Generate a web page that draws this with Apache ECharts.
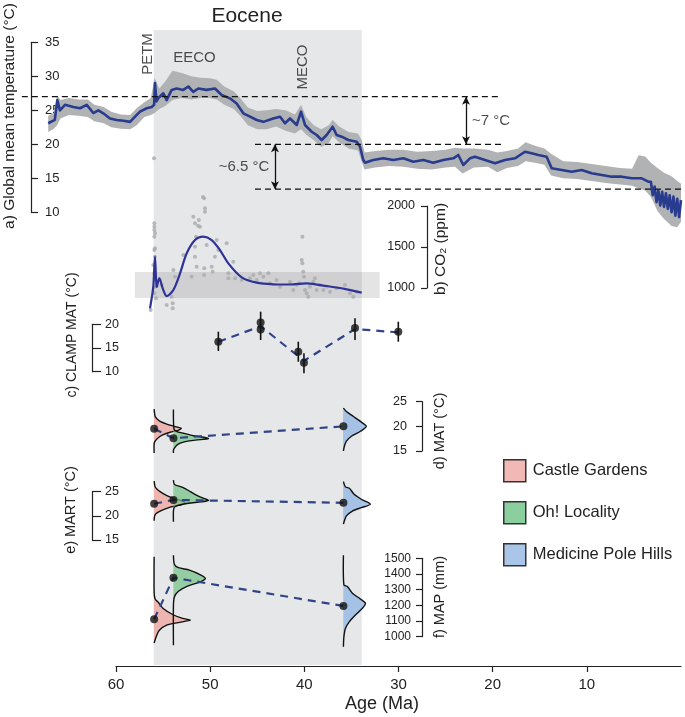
<!DOCTYPE html>
<html><head><meta charset="utf-8">
<script src="https://cdn.jsdelivr.net/npm/echarts@6/dist/echarts.min.js"></script>
<style>html,body{margin:0;padding:0;background:#fff}#c{width:685px;height:717px}</style>
</head><body><div id="c"></div>
<script>
// ---------------- DATA ----------------
// a) Global mean temperature: smoothed curve (age Ma, °C)
const tempAge = [67.2,66.5,66.23,65.95,65.42,64.53,63.82,63.11,62.41,61.88,61.35,60.64,59.93,59.22,58.51,57.98,57.45,56.74,56.21,55.95,55.86,55.7,55.5,54.97,54.62,54.09,53.56,52.85,52.32,51.79,51.26,50.38,49.49,48.78,47.9,47.19,46.48,45.77,45.06,44.36,43.3,42.58,42.05,41.52,40.81,40.35,39.93,39.22,38.69,38.16,37.63,36.99,36.57,36.03,35.33,34.44,34.09,33.74,33.56,32.68,31.62,30.55,29.49,28.43,27.37,26.31,25.24,24.18,23.65,23.12,22.41,21.88,20.82,19.75,18.69,17.63,16.57,15.86,15.15,14.27,13.73,12.67,11.61,10.55,9.49,8.42,7.36,6.3,5.24,4.18,3.47,3.2,3.0,2.8,2.6,2.4,2.2,2.0,1.8,1.6,1.4,1.2,1.0,0.8,0.6,0.4,0.2,0.0];
const tempMean = [23.1,23.6,26.5,25.0,25.8,25.5,25.3,25.8,24.6,25.0,24.56,23.8,23.57,23.47,23.3,24.06,24.8,25.3,25.5,25.8,29.0,26.3,26.8,27.5,26.5,28.0,28.2,28.0,28.5,27.7,28.2,28.0,28.2,27.25,26.76,26.0,24.56,24.06,23.57,23.3,23.8,24.06,23.09,23.8,22.84,24.8,22.84,21.85,21.37,20.63,21.37,22.59,21.37,21.12,20.63,20.38,19.65,17.7,17.3,17.7,17.94,17.7,17.94,17.44,17.7,17.3,17.7,17.94,18.43,16.96,17.94,18.18,17.7,17.2,17.7,17.94,18.9,18.67,18.43,18.18,16.47,16.22,15.97,16.22,15.73,15.49,15.24,15.24,15.0,15.0,14.5,14.5,12.5,13.8,11.5,13.2,11.0,13.0,10.8,12.8,10.5,12.5,10.0,12.3,9.5,12.0,9.3,11.8];
// a) spread of the individual estimates (grey cloud)
const envAge = [67.2,66.6,66.25,65.9,65,64,63,62.3,61.3,60.5,59.5,58.5,57.8,57,56.3,55.9,55.4,54.8,54,53,52,51,50,49.3,48.5,47.5,46.8,46,45,44,43,42,41,40.35,39.8,39,38.2,37.4,37,36.3,35.3,34.3,33.9,33.6,32.5,31,29.5,28,26.5,25,24,23.2,22,20.5,19.5,18.5,17.3,16.5,15.5,14.5,13.8,12.5,11,9.5,8,6.5,5.2,4.5,3.8,3.2,2.5,1.8,1,0.4,0];
const envHi = [24.2,24.6,27.2,26.5,26.8,26.6,26.6,25.8,25.5,24.8,24.4,24.3,25.3,26.2,26.8,29.8,28.2,29.2,30.8,30.5,30,29.8,29.7,29.5,28.5,27.8,26.8,25.4,24.9,25,25.2,25,24.4,25.8,24,22.8,22.2,22.8,23.6,22.6,21.8,21.6,20.6,18.8,19.0,19.2,19.2,18.9,19,19.2,19.5,19.4,19.4,19.2,18.8,19,19.4,20.3,19.8,19.4,18.6,17.5,17.4,17.1,16.8,16.5,16.4,18.4,18.2,17.3,16.5,15.8,15.3,14.6,14.2];
const envLo = [21.8,22.3,22.8,23.8,24.3,24.2,24,23.4,23.1,22.5,22.3,22.2,22.8,24,24.3,24.6,25.2,25.6,26.5,26.8,26.6,26.8,26.8,26.6,25.8,25.2,24.2,22.8,22.2,22.2,22.6,22,21.6,22.2,21.4,20.6,19.6,20.2,21.2,20.3,19.4,19.1,17.4,16.3,16.6,16.8,16.7,16.4,16.3,16.6,16.7,15.7,16.6,16.7,15.9,16.5,16.8,17.5,17.3,17,15.4,15,14.9,14.6,14.3,14.1,13.9,13.5,13.2,12.3,10.2,9,8,7.8,8.6];
// a) reference levels and offsets
const refLevels = [[70,19.2,27],[45.24,19.0,20],[45.24,0,13.4]];   // [fromAge,toAge,°C]
const offsets = [[22.83,27,20,'~7 °C',20.18,23.4],[43.12,20,13.4,'~6.5 °C',46.4,16.66]];
const events = [['PETM',56.6,33.28,90],['EECO',51.66,32.7,0],['MECO',40.2,31.37,90]];

// b) CO2 proxy samples (age Ma, ppm) and fit
const co2Samples = [[55.96,2582],[55.93,1789],[55.93,1748],[55.93,1707],[55.86,1667],[55.93,1626],[55.86,1484],[55.93,1463],[55.86,1382],[56.04,1280],[55.93,1179],[55.86,1098],[55.86,1016],[55.93,935],[55.75,874],[56.32,732],[55.33,1098],[55.15,1037],[54.62,793],[54.09,894],[53.98,813],[53.98,752],[53.91,1220],[53.73,1138],[52.85,1402],[51.96,1138],[51.79,1870],[51.61,1789],[51.5,1626],[51.61,1504],[51.61,1382],[51.43,1260],[51.08,1748],[50.65,2093],[50.55,1972],[50.55,1931],[50.62,1240],[50.65,1159],[50.37,1524],[49.84,1260],[49.73,1199],[49.49,1382],[49.31,1585],[49.13,1463],[48.25,1545],[48.07,1179],[48.07,1118],[47.54,1321],[47.36,1118],[46.65,1098],[45.77,1118],[45.42,1159],[45.06,1098],[44.71,1179],[44.35,1138],[43.82,1179],[43.65,1057],[42.94,1098],[42.58,1016],[41.52,1077],[41.17,976],[40.81,1037],[40.53,1057],[40.28,1341],[40.21,1301],[40.21,1626],[40.11,1199],[40.04,1138],[39.93,976],[39.75,935],[39.58,894],[39.4,1016],[39.04,1077],[38.87,1118],[38.69,976],[38.34,1037],[37.98,976],[37.63,1016],[37.27,955],[36.57,996],[35.68,1037],[35.15,935],[34.8,894],[34.44,955],[50.76,2110],[51.2,1830],[51.3,1760]];
const co2Fit = [[56.39,752],[56.04,1016],[55.86,1382],[55.68,1016],[55.4,1118],[55.04,996],[54.62,902],[53.91,976],[53.2,1179],[52.49,1423],[51.61,1585],[50.73,1626],[49.84,1585],[48.96,1463],[48.07,1301],[46.65,1130],[45.06,1065],[43.3,1045],[41.17,1045],[39.75,1057],[37.63,1024],[35.5,984],[33.91,943]];
const co2Band = [58, 32, 1195, 878]; // ages and ppm range

// c) CLAMP MAT
const clampAge = [49.13,44.64,44.64,40.64,40.04,34.62,30.02];
const clampMat = [16.3,20.4,18.9,14.2,11.9,19.2,18.45];
const clampBarAge = [49.13,44.64,40.64,40.04,34.62,30.02];
const clampBarLo = [14.37,16.69,12.1,9.66,16.69,16.33];
const clampBarHi = [18.44,22.66,16.33,13.88,21.27,20.55];
const clampTrendAge = [49.13,44.64,40.04,34.62,30.02];
const clampTrend = [16.3,19.6,12.3,19.0,18.3];

// d-f) sites
const sites = ['Castle Gardens','Oh! Locality','Medicine Pole Hills'];
const siteAge = [55.95,53.9,35.85];
const matMean = [19.5,17.6,20.0];
const martMean = [22.5,23.3,22.7];
const mapMean = [1111,1376,1196];
// posterior densities [value, relative density]
const matDens = [
  [[23.5,0],[22,1],[21.5,3],[21,6],[20.5,12],[20,20],[19.6,27],[19.2,24],[18.8,16],[18.2,8],[17.5,3],[17,1],[16.5,0],[14.6,0]],
  [[23.4,0],[19.5,0.5],[19,3],[18.6,10],[18.1,20],[17.8,30],[17.5,35],[17.2,22],[16.8,10],[16.3,4],[15.6,1],[15.2,0],[14.6,0]],
  [[23.7,0],[23,3],[22,10],[21,17],[20,23],[19,17],[18,8],[17,3],[16,1],[15,0]]
];
const martDens = [
  [[27.2,0],[26,1],[25.5,3],[25,6],[24.5,10],[24,15],[23.5,22],[23,29],[22.7,31],[22.3,27],[22,20],[21.5,12],[21,6],[20.5,2],[20,0.5],[19,0]],
  [[27.4,0],[26.5,1],[26,8],[25.5,13],[25,17],[24.5,21],[24,26],[23.5,32],[23.2,35],[22.9,28],[22.6,15],[22.2,5],[21.8,1],[21,0],[18.8,0]],
  [[27.1,0],[26,2],[25.7,6],[24.4,11],[23.3,19],[22.4,27],[21.7,18],[21,9],[20,3],[19,1],[18.3,0]]
];
const mapDens = [
  [[1510,0],[1280,0],[1240,1],[1220,4],[1180,9],[1140,19],[1120,27],[1105,36],[1090,24],[1075,13],[1040,5],[1000,2],[960,0]],
  [[1520,0],[1460,1],[1440,5],[1425,16],[1395,27],[1372,32],[1350,27],[1320,13],[1290,5],[1255,1],[1200,0],[945,0]],
  [[1520,0],[1330,0.5],[1320,4],[1277,9],[1245,16],[1213,22],[1181,19],[1138,12],[1096,6],[1053,2],[1000,0.5],[936,0]]
];
const eocene = [56, 33.9];

// ---------------- LAYOUT ----------------
const K = 565/60;                      // px per Ma
const ageAt = px => 60 - (px - 116)/K;
const DS = 1/K;                        // density unit -> Ma
const FONT = '"Liberation Sans", Arial, Helvetica, sans-serif';
const INK = '#222';
const fills = ['rgba(240,162,152,0.72)','rgba(118,196,134,0.72)','rgba(146,182,230,0.78)'];
const solid = ['#f2b8b3','#8bcf9f','#a9c5e8'];
const DASH = '#2f4487';

const panels = [
  // l, r, t, b
  [116,681,30,665],      // 0 background
  [31,681,42.3,212.3],   // 1 a
  [427,681,206,288],     // 2 b
  [92,681,324.3,371.7],  // 3 c
  [422,681,401.7,451],   // 4 d
  [92,681,491.7,540],    // 5 e
  [422,681,558.3,636.7], // 6 f
  [116,681,600,666]      // 7 age axis
];
const grid = panels.map(p=>({left:p[0], top:p[2], width:p[1]-p[0], height:p[3]-p[2], containLabel:false}));
const xAxis = panels.map((p,i)=>({gridIndex:i, type:'value', inverse:true, min:ageAt(p[1]), max:ageAt(p[0]),
  show: i===7, interval:10,
  axisLine:{show:true, onZero:false, lineStyle:{color:INK,width:1.2}},
  axisTick:{show:true, length:6, lineStyle:{color:INK,width:1.2}},
  axisLabel:{show:true, fontSize:15, color:INK, fontFamily:FONT, margin:11},
  splitLine:{show:false}}));
function yAx(i, min, max, interval, inside, tickLen, size, margin){
  return {gridIndex:i, type:'value', min, max, interval, position:'left',
    axisLine:{show:true, onZero:false, lineStyle:{color:INK,width:1.2}},
    axisTick:{show:true, inside, length:tickLen, lineStyle:{color:INK,width:1.2}},
    axisLabel:{show:true, inside, fontSize:size, color:INK, fontFamily:FONT, margin, formatter:v=>String(v)},
    splitLine:{show:false}};
}
const yAxis = [
  {gridIndex:0, type:'value', min:0, max:1, show:false},
  yAx(1,10,35,5,true,7,13,14),
  yAx(2,1000,2000,500,false,6,12.5,12),
  yAx(3,10,20,5,true,9,12.5,13),
  yAx(4,15,25,5,false,6,12.5,15),
  yAx(5,15,25,5,true,9,12.5,13),
  yAx(6,1000,1500,100,false,6,12,11),
  {gridIndex:7, type:'value', min:0, max:1, show:false}
];

const series = [];
function rectSeries(gi, r, fill, z){
  series.push({type:'custom', xAxisIndex:gi, yAxisIndex:gi, clip:false, z, silent:true,
    data:[r],
    renderItem:(p,api)=>{
      const a = api.coord([api.value(0), api.value(2)]);
      const b = api.coord([api.value(1), api.value(3)]);
      return {type:'rect', shape:{x:a[0], y:a[1], width:b[0]-a[0], height:b[1]-a[1]}, style:{fill}};
    }});
}
// polyline through data points using the panel's scales
function pathSeries(gi, pts, style, z, smooth){
  series.push({type:'custom', xAxisIndex:gi, yAxisIndex:gi, clip:false, z, silent:true,
    data:[pts[0]],
    renderItem:(p,api)=>({type:'polyline', shape:{points:pts.map(q=>api.coord(q)), smooth:smooth||0},
      style:Object.assign({fill:null}, style)})});
}
rectSeries(0, [eocene[0], eocene[1], 1, 0], '#e6e7e9', 0);
rectSeries(2, co2Band, 'rgba(120,120,124,0.2)', 1);

// a) grey cloud
series.push({type:'custom', xAxisIndex:1, yAxisIndex:1, clip:false, z:2, silent:true,
  data:[[envAge[0], envHi[0]]],
  renderItem:(p,api)=>{
    const up = envAge.map((a,i)=>api.coord([a, envHi[i]]));
    const lo = envAge.map((a,i)=>api.coord([a, envLo[i]])).reverse();
    return {type:'polygon', shape:{points:up.concat(lo)}, style:{fill:'#b0b2b4'}};
  }});
pathSeries(1, tempAge.map((a,i)=>[a, tempMean[i]]), {stroke:'#283b8e', lineWidth:2.6, lineJoin:'round'}, 3);
refLevels.forEach(r=>pathSeries(1, [[r[0], r[2]],[r[1], r[2]]], {stroke:'#111', lineWidth:1.3, lineDash:[6,4]}, 4));
series.push({type:'line', xAxisIndex:1, yAxisIndex:1, z:4, symbol:'none', data:[], silent:true,
  markLine:{silent:true, symbol:['arrow','arrow'], symbolSize:[6,8], animation:false,
    lineStyle:{color:'#111', width:1.3, type:'solid'}, label:{show:false},
    data: offsets.map(o=>[{coord:[o[0], o[1]]},{coord:[o[0], o[2]]}])}});
series.push({type:'scatter', xAxisIndex:1, yAxisIndex:1, clip:false, z:6, symbolSize:0, silent:true,
  data: offsets.map(o=>({name:o[3], value:[o[4], o[5]]})).concat(
        events.map(e=>({name:e[0], value:[e[1], e[2]], label:{rotate:e[3]}}))),
  label:{show:true, position:'inside', formatter:p=>p.name, fontSize:15, color:INK, fontFamily:FONT}});

// b) CO2
series.push({type:'scatter', xAxisIndex:2, yAxisIndex:2, clip:false, z:3, symbolSize:4, silent:true,
  data: co2Samples, itemStyle:{color:'#a8aaac'}});
pathSeries(2, co2Fit, {stroke:'#2e3395', lineWidth:2.2, lineJoin:'round'}, 4, 0.3);

// c) CLAMP
series.push({type:'custom', xAxisIndex:3, yAxisIndex:3, clip:false, z:4, silent:true,
  data: clampBarAge.map((a,i)=>[a, clampBarLo[i], clampBarHi[i]]),
  renderItem:(p,api)=>{
    const p1 = api.coord([api.value(0), api.value(1)]), p2 = api.coord([api.value(0), api.value(2)]);
    return {type:'line', shape:{x1:p1[0],y1:p1[1],x2:p2[0],y2:p2[1]}, style:{stroke:'#111', lineWidth:1.6}};
  }});
pathSeries(3, clampTrendAge.map((a,i)=>[a, clampTrend[i]]), {stroke:DASH, lineWidth:2.2, lineDash:[8,6]}, 5);
series.push({type:'scatter', xAxisIndex:3, yAxisIndex:3, clip:false, z:6, symbolSize:8, silent:true,
  data: clampAge.map((a,i)=>[a, clampMat[i]]), itemStyle:{color:'#111'}});

// d-f) densities
function densSeries(gi, s, prof){
  const base = siteAge[s];
  series.push({type:'custom', name:sites[s], xAxisIndex:gi, yAxisIndex:gi, clip:false, z:3+s*0.1, silent:true,
    itemStyle:{color:solid[s]},
    data:[[base, prof[0][0]]],
    renderItem:(p,api)=>{
      const pts = prof.map(q=>api.coord([base - q[1]*DS, q[0]]));
      return {type:'group', children:[
        {type:'polygon', shape:{points:pts, smooth:0.25}, style:{fill:fills[s]}},
        {type:'polyline', shape:{points:pts, smooth:0.25}, style:{stroke:'#111', lineWidth:1.4, fill:null}}
      ]};
    }});
}
[[4,matDens,matMean],[5,martDens,martMean],[6,mapDens,mapMean]].forEach(([gi,dens,mean])=>{
  dens.forEach((prof,s)=>densSeries(gi,s,prof));
  pathSeries(gi, siteAge.map((a,i)=>[a, mean[i]]), {stroke:DASH, lineWidth:2.2, lineDash:[8,6]}, 5);
  series.push({type:'scatter', xAxisIndex:gi, yAxisIndex:gi, clip:false, z:6, symbolSize:8, silent:true,
    data: siteAge.map((a,i)=>[a, mean[i]]), itemStyle:{color:'#111'}});
});

function txt(x, y, text, size, rot){
  return {type:'text', x, y, rotation: rot||0, silent:true,
    style:{text, font: size+'px '+FONT, fill:INK, textAlign:'center', textVerticalAlign:'middle', align:'center', verticalAlign:'middle'}};
}
const graphic = [
  txt(247, 16, 'Eocene', 21),
  txt(10, 116, 'a) Global mean temperature (°C)', 15.5, Math.PI/2),
  txt(441, 249, 'b) CO₂ (ppm)', 15.5, Math.PI/2),
  txt(72, 335, 'c) CLAMP MAT (°C)', 14, Math.PI/2),
  txt(440, 431, 'd) MAT (°C)', 14.5, Math.PI/2),
  txt(71, 510, 'e) MART (°C)', 14.5, Math.PI/2),
  txt(440, 597, 'f) MAP (mm)', 14.5, Math.PI/2),
  txt(382, 704, 'Age (Ma)', 18)
];

const chart = echarts.init(document.getElementById('c'), null, {renderer:'canvas'});
chart.setOption({
  animation:false,
  backgroundColor:'#fff',
  grid, xAxis, yAxis, series, graphic,
  legend:{orient:'vertical', left:498, top:454, itemWidth:22, itemHeight:22, itemGap:18.5, selectedMode:false,
    icon:'rect',
    textStyle:{fontSize:16.5, color:INK, fontFamily:FONT, padding:[0,0,0,2]},
    data: sites.map((n,i)=>({name:n, itemStyle:{color:solid[i], borderColor:'#333', borderWidth:1.5}}))}
});
</script></body></html>
